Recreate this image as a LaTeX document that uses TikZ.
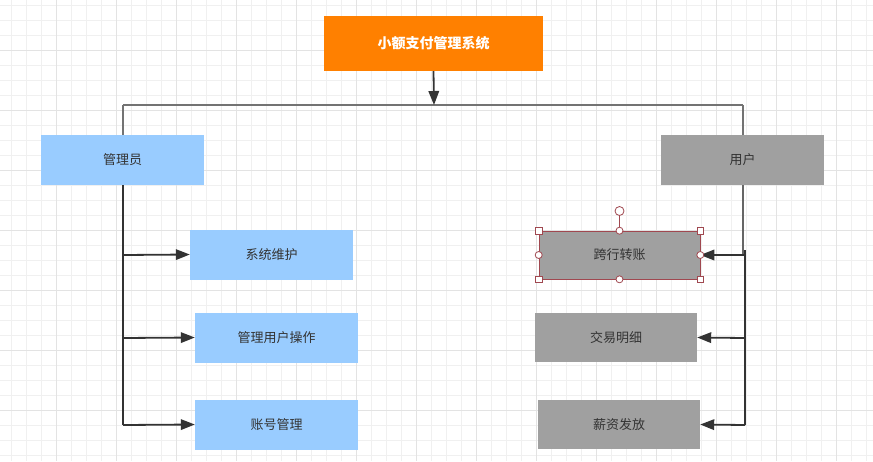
\documentclass[tikz,border=0pt]{standalone}
\usepackage{fontspec}
\newfontfamily\cjk{Noto Sans CJK SC}
\usetikzlibrary{arrows.meta}
\definecolor{blueb}{HTML}{99CCFF}
\definecolor{grayb}{HTML}{A0A0A0}
\definecolor{orangeb}{HTML}{FF8000}
\definecolor{txt}{HTML}{333333}
\definecolor{selc}{HTML}{A04850}
\tikzset{
  box/.style={draw=none,minimum width=163pt,minimum height=50pt,inner sep=0pt,font=\cjk\fontsize{13}{15}\selectfont,text=txt},
  bluebox/.style={box,fill=blueb},
  graybox/.style={box,fill=grayb},
  conn/.style={draw=txt,line width=1.8pt,-{Triangle[length=14pt,width=10.5pt]}},
  trunk/.style={draw=txt,line width=1.8pt},
  thin/.style={draw=black!55,line width=1.4pt},
  hsq/.style={draw=selc,fill=white,line width=0.8pt,minimum size=6.5pt,inner sep=0pt},
  hci/.style={draw=selc,fill=white,line width=0.8pt,circle,minimum size=7pt,inner sep=0pt}
}
\begin{document}
\begin{tikzpicture}[x=1pt,y=-1pt]
\useasboundingbox (0,0) rectangle (873,461);
\fill[white] (0,0) rectangle (873,461);
% grid
\foreach \i in {0,...,58} {\draw[black!6,line width=0.8pt] (11.7+15*\i,0) -- (11.7+15*\i,461);}
\foreach \j in {0,...,30} {\draw[black!6,line width=0.8pt] (0,5+15*\j) -- (873,5+15*\j);}
\foreach \i in {0,...,14} {\draw[black!11,line width=0.8pt] (56.7+60*\i,0) -- (56.7+60*\i,461);}
\foreach \j in {0,...,7} {\draw[black!11,line width=0.8pt] (0,50+60*\j) -- (873,50+60*\j);}
% nodes
\node[box,fill=orangeb,minimum width=219pt,minimum height=55pt,text=white,font=\cjk\bfseries\fontsize{14}{16}\selectfont] (root) at (433.5,43.5) {小额支付管理系统};
\node[bluebox] (admin) at (122.5,160) {管理员};
\node[graybox] (user) at (742.5,160) {用户};
\node[bluebox] (a1) at (271.5,254.5) {系统维护};
\node[bluebox] (a2) at (276.5,337.5) {管理用户操作};
\node[bluebox] (a3) at (276.5,424.5) {账号管理};
\node[graybox,minimum width=161pt,minimum height=48pt,draw=selc,line width=0.6pt] (u1) at (619.5,255) {跨行转账};
\node[graybox,minimum width=162pt,minimum height=49pt] (u2) at (616,337.5) {交易明细};
\node[graybox,minimum width=162pt,minimum height=49pt] (u3) at (619,424.5) {薪资发放};
% coordinates
\coordinate (hub) at (434,105);
\coordinate (hl) at (123,105);
\coordinate (hr) at (743,105);
\coordinate (lb1) at (123,255);
\coordinate (lb2) at (123,338);
\coordinate (lb3) at (123,425);
\coordinate (rb1) at (745,255);
\coordinate (rb2) at (745,338);
\coordinate (rb3) at (745,425);
% connectors
\draw[thin] (hl) -- (hr);
\draw[thin] (hl) -- (admin.north -| hl);
\draw[thin] (hr) -- (user.north -| hr);
\draw[conn] (root.south) -- (hub);
\draw[trunk] (admin.south -| hl) -- (lb3);
\draw[conn] (lb1) -- (a1.west);
\draw[conn] (lb2) -- (a2.west);
\draw[conn] (lb3) -- (a3.west);
\draw[black!60,line width=1.4pt] (user.south -| hr) -- (743,255);
\draw[trunk] (rb1|-0,250) -- (rb3);
\draw[conn] (rb1) -- (u1.east);
\draw[conn] (rb2) -- (u2.east);
\draw[conn] (rb3) -- (u3.east);
% selection handles
\coordinate (rot) at (619.5,211);
\draw[selc,line width=0.8pt] (rot) -- (u1.north);
\node[hci,minimum size=9pt] (rh) at (rot) {};
\foreach \a in {north west,north east,south west,south east} {\node[hsq] at (u1.\a) {};}
\foreach \a in {north,south,west,east} {\node[hci] at (u1.\a) {};}
\end{tikzpicture}
\end{document}
